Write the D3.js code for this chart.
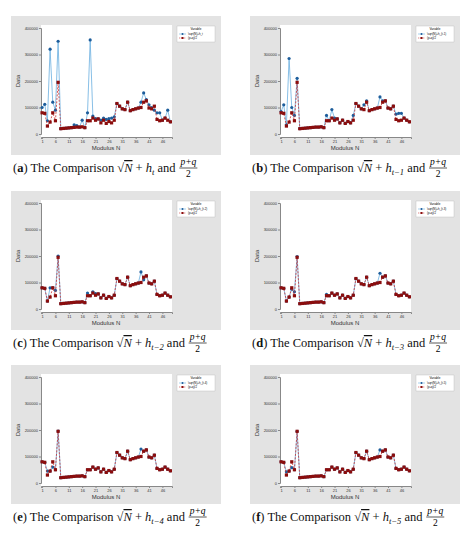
<!DOCTYPE html>
<html><head><meta charset="utf-8">
<script src="https://d3js.org/d3.v7.min.js"></script>
<style>body{margin:0;background:#fff}</style>
</head><body><svg id="c" width="474" height="539"></svg>
<script>
// (p+q)/2, in thousands, N = 1..49
const pq = [80,78,30,45,80,50,195,20,21,22,23,24,25,26,26,27,24,50,50,60,52,57,42,52,40,47,42,52,115,105,95,92,120,88,92,95,98,100,120,125,98,95,105,55,50,52,60,52,46];
// sqrt(N)+h_{t-k}: overrides of pq values per panel
const diffs = [
  {1:100,2:112,3:50,4:320,5:120,6:90,7:350,13:35,14:32,16:52,18:80,19:355,20:68,21:58,23:52,24:60,25:55,26:58,27:60,28:65,38:120,39:155,40:130,41:110,42:100,43:90,44:80,45:80,48:90},
  {1:85,2:110,3:35,4:285,5:100,6:70,7:210,18:70,20:92,21:60,28:70,32:110,33:125,38:140,39:125,44:75,45:78,46:78},
  {4:80,5:80,6:70,7:200,18:60,20:65,21:58,38:140,39:110},
  {4:45,5:75,6:65,7:198,18:55,38:135},
  {3:45,5:60,7:196,38:128},
  {3:42,5:58,7:195,38:125}
];
const subs = ["t","t\u22121","t\u22122","t\u22123","t\u22124","t\u22125"];
const legSubs = ["t","t-1)","t-2)","t-3)","t-4)","t-5)"];
const letters = ["a","b","c","d","e","f"];
const yTicks = [0,100000,200000,300000,400000];
const xTicks = [1,6,11,16,21,26,31,36,41,46];

const svg = d3.select("#c");
const cols = [11, 250], rows = [16, 191, 365];

diffs.forEach((d, i) => {
  const ox = cols[i % 2], oy = rows[Math.floor(i / 2)];
  const g = svg.append("g").attr("transform", `translate(${ox},${oy})`);
  g.append("rect").attr("width", 210).attr("height", 139).attr("fill", "#e3e3e3");
  const x = d3.scaleLinear().domain([0.6, 49.6]).range([30, 161]);
  const y = d3.scaleLinear().domain([0, 400000]).range([118, 12]);
  g.append("rect").attr("x", 30).attr("y", 9).attr("width", 131).attr("height", 112).attr("fill", "#fff");
  const ya = g.append("g").attr("transform", "translate(30,0)")
    .call(d3.axisLeft(y).tickValues(yTicks).tickSize(2).tickFormat(d3.format("d")));
  const xa = g.append("g").attr("transform", "translate(0,121)")
    .call(d3.axisBottom(x).tickValues(xTicks).tickSize(2));
  [ya, xa].forEach(a => {
    a.selectAll("text").attr("font-size", 4).attr("font-family", "Arial").attr("fill", "#333");
    a.select(".domain").attr("stroke", "#888");
    a.selectAll("line").attr("stroke", "#888");
  });
  xa.selectAll("text").attr("y", 3);
  ya.selectAll("text").attr("x", -3);
  g.append("text").attr("x", 95).attr("y", 134).attr("text-anchor", "middle")
    .attr("font-size", 6).attr("font-family", "Arial").attr("fill", "#333").text("Modulus N");
  g.append("text").attr("transform", "translate(9,65) rotate(-90)").attr("text-anchor", "middle")
    .attr("font-size", 6).attr("font-family", "Arial").attr("fill", "#333").text("Data");

  const red = pq.map((v, k) => ({n: k + 1, v: v * 1000}));
  const blue = pq.map((v, k) => ({n: k + 1, v: (d[k + 1] !== undefined ? d[k + 1] : v) * 1000}));
  const line = d3.line().x(p => x(p.n)).y(p => y(p.v));
  g.append("path").datum(blue).attr("d", line).attr("fill", "none").attr("stroke", "#6aaee0").attr("stroke-width", 0.8);
  g.selectAll(".b").data(blue).enter().append("circle")
    .attr("cx", p => x(p.n)).attr("cy", p => y(p.v)).attr("r", 1.6).attr("fill", "#1d5d9b");
  g.append("path").datum(red).attr("d", line).attr("fill", "none").attr("stroke", "#c83030")
    .attr("stroke-width", 0.8).attr("stroke-dasharray", "2,1.5");
  g.selectAll(".r").data(red).enter().append("rect")
    .attr("x", p => x(p.n) - 1.6).attr("y", p => y(p.v) - 1.6).attr("width", 3.2).attr("height", 3.2).attr("fill", "#8b0d0d");

  // legend
  const lg = g.append("g").attr("transform", "translate(166,10)");
  lg.append("rect").attr("width", 38).attr("height", 16).attr("fill", "#fff").attr("stroke", "#bbb").attr("stroke-width", 0.4);
  lg.append("text").attr("x", 19).attr("y", 4).attr("text-anchor", "middle").attr("font-size", 3).attr("font-family", "Arial").text("Variable");
  lg.append("line").attr("x1", 2).attr("x2", 9).attr("y1", 8).attr("y2", 8).attr("stroke", "#6aaee0").attr("stroke-width", 0.6);
  lg.append("circle").attr("cx", 5.5).attr("cy", 8).attr("r", 1).attr("fill", "#1d5d9b");
  lg.append("line").attr("x1", 2).attr("x2", 9).attr("y1", 12).attr("y2", 12).attr("stroke", "#c83030").attr("stroke-width", 0.6).attr("stroke-dasharray", "1,0.7");
  lg.append("rect").attr("x", 4.5).attr("y", 11).attr("width", 2).attr("height", 2).attr("fill", "#8b0d0d");
  lg.append("text").attr("x", 11).attr("y", 9).attr("font-size", 2.8).attr("font-family", "Arial")
    .text(i === 0 ? "\\sqrt{N}+h_t" : "\\sqrt{N}+h_(" + legSubs[i]);
  lg.append("text").attr("x", 11).attr("y", 13).attr("font-size", 2.8).attr("font-family", "Arial").text("(p+q)/2");

  // caption
  const cap = svg.append("text").attr("x", ox + 2).attr("y", oy + 156)
    .attr("font-family", "'Liberation Serif', serif").attr("font-size", 12.5).attr("fill", "#111");
  cap.append("tspan").text("(");
  cap.append("tspan").attr("font-weight", "bold").text(letters[i]);
  cap.append("tspan").text(") The Comparison \u221A");
  cap.append("tspan").attr("font-style", "italic").attr("text-decoration", "overline").text("N");
  cap.append("tspan").text(" + ");
  cap.append("tspan").attr("font-style", "italic").text("h");
  cap.append("tspan").attr("font-style", "italic").attr("font-size", 8.5).attr("dy", 3).text(subs[i]);
  cap.append("tspan").attr("dy", -3).text(" and");
  const bb = cap.node().getBBox();
  const fx = bb.x + bb.width + 12;
  svg.append("text").attr("x", fx).attr("y", oy + 149).attr("text-anchor", "middle")
    .attr("font-family", "'Liberation Serif', serif").attr("font-size", 9.5).attr("font-style", "italic").text("p+q");
  svg.append("line").attr("x1", fx - 9).attr("x2", fx + 9).attr("y1", oy + 152).attr("y2", oy + 152).attr("stroke", "#111").attr("stroke-width", 0.7);
  svg.append("text").attr("x", fx).attr("y", oy + 161).attr("text-anchor", "middle")
    .attr("font-family", "'Liberation Serif', serif").attr("font-size", 9.5).text("2");
});
</script></body></html>
